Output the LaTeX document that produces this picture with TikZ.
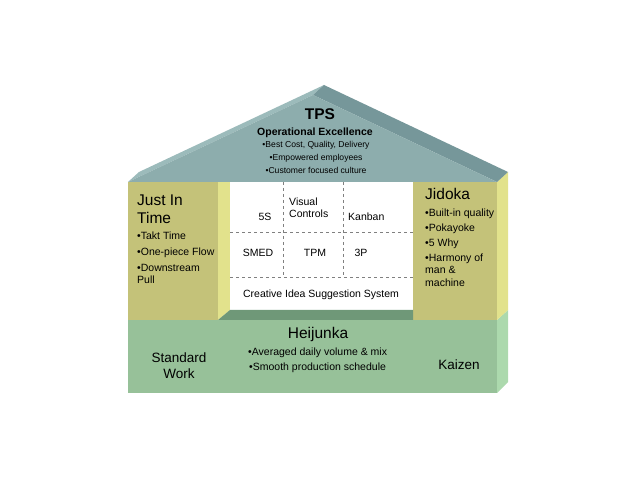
\documentclass[tikz,border=0pt]{standalone}
\usepackage{fontspec}
\setmainfont{Liberation Sans}
\definecolor{roofface}{HTML}{8DADAD}
\definecolor{roofedge}{HTML}{76979A}
\definecolor{roofsliver}{HTML}{9CBBBB}
\definecolor{pillarface}{HTML}{C4C279}
\definecolor{pillarside}{HTML}{E2E28C}
\definecolor{baseface}{HTML}{97C199}
\definecolor{baseside}{HTML}{ACD9AD}
\definecolor{floorface}{HTML}{6F9878}
\begin{document}
\begin{tikzpicture}[x=1pt,y=-1pt,
    txt/.style={inner sep=0pt, anchor=base},
    ltxt/.style={inner sep=0pt, anchor=base west},
    grid/.style={gray, dashed, line width=0.6pt}]
    \useasboundingbox (0,0) rectangle (638,478);

    % Define corners
    \coordinate (roofL) at (128,182);
    \coordinate (roofR) at (497,182);
    \coordinate (apex) at (313,95);
    \coordinate (apexB) at (324,85);
    \coordinate (roofLB) at (139,172);
    \coordinate (roofRB) at (508,172);

    % Draw base
    \fill[baseface] (128,320) rectangle (497,393);
    \fill[baseside] (497,320) -- (508,310) -- (508,382) -- (497,393) -- cycle;

    % Draw pillars
    \fill[pillarface] (128,182) rectangle (218,320);
    \fill[pillarside] (218,182) -- (230,182) -- (230,310) -- (218,320) -- cycle;
    \fill[pillarface] (413,182) rectangle (497,320);
    \fill[pillarside] (497,182) -- (roofRB) -- (508,310) -- (497,320) -- cycle;

    % Draw middle panel and floor
    \fill[white] (230,182) rectangle (413,310);
    \fill[floorface] (218,320) -- (230,310) -- (413,310) -- (413,320) -- cycle;
    \draw[grid] (283,182) -- (283,277);
    \draw[grid] (343,182) -- (343,277);
    \draw[grid] (230,232) -- (413,232);
    \draw[grid] (230,277) -- (413,277);

    % Draw roof
    \fill[roofsliver] (roofL) -- (roofLB) -- (apexB) -- (apex) -- cycle;
    \fill[roofedge] (apex) -- (apexB) -- (roofRB) -- (roofR) -- cycle;
    \fill[roofface] (roofL) -- (apex) -- (roofR) -- cycle;

    % Roof text
    \node[txt, font=\fontsize{15.5}{18}\selectfont\bfseries] (tps) at (320,120) {TPS};
    \node[txt, font=\fontsize{10.5}{12}\selectfont\bfseries] (opex) at (315,136) {Operational Excellence};
    \foreach \t/\y [count=\i] in {{•Best Cost, Quality, Delivery}/148, •Empowered employees/161, •Customer focused culture/174}
        \node[txt, font=\fontsize{8.6}{10}\selectfont] (roof\i) at (316,\y) {\t};

    % Just In Time
    \node[ltxt, font=\fontsize{15.5}{18}\selectfont] (jit1) at (137,206) {Just In};
    \node[ltxt, font=\fontsize{15.5}{18}\selectfont] (jit2) at (137,224) {Time};
    \foreach \t/\y [count=\i] in {•Takt Time/240, •One-piece Flow/256, •Downstream/272, Pull/284}
        \node[ltxt, font=\fontsize{10.5}{12}\selectfont] (jitb\i) at (137,\y) {\t};

    % Middle tools
    \node[txt, font=\fontsize{10.5}{12}\selectfont] (fiveS) at (265,221) {5S};
    \node[ltxt, font=\fontsize{10.5}{12}\selectfont] (visual) at (289,206) {Visual};
    \node[ltxt, font=\fontsize{10.5}{12}\selectfont] (controls) at (289,218) {Controls};
    \node[ltxt, font=\fontsize{10.5}{12}\selectfont] (kanban) at (348,221) {Kanban};
    \node[txt, font=\fontsize{10.5}{12}\selectfont] (smed) at (258,257) {SMED};
    \node[txt, font=\fontsize{10.5}{12}\selectfont] (tpm) at (315,257) {TPM};
    \node[txt, font=\fontsize{10.5}{12}\selectfont] (threeP) at (361,257) {3P};
    \node[txt, font=\fontsize{10.5}{12}\selectfont] (creative) at (321,298) {Creative Idea Suggestion System};

    % Jidoka
    \node[ltxt, font=\fontsize{15.5}{18}\selectfont] (jidoka) at (425,200) {Jidoka};
    \foreach \t/\y [count=\i] in {•Built-in quality/217, •Pokayoke/232, •5 Why/247, •Harmony of/262, man \&/274, machine/287}
        \node[ltxt, font=\fontsize{10.5}{12}\selectfont] (jid\i) at (425,\y) {\t};

    % Base text
    \node[txt, font=\fontsize{15.5}{18}\selectfont] (heijunka) at (318,339) {Heijunka};
    \node[ltxt, font=\fontsize{10.5}{12}\selectfont] (hei1) at (248,356) {•Averaged daily volume \& mix};
    \node[ltxt, font=\fontsize{10.5}{12}\selectfont] (hei2) at (249,371) {•Smooth production schedule};
    \node[txt, font=\fontsize{13.5}{16}\selectfont] (std1) at (179,363) {Standard};
    \node[txt, font=\fontsize{13.5}{16}\selectfont] (std2) at (179,379) {Work};
    \node[txt, font=\fontsize{13.5}{16}\selectfont] (kaizen) at (459,370) {Kaizen};
\end{tikzpicture}
\end{document}
